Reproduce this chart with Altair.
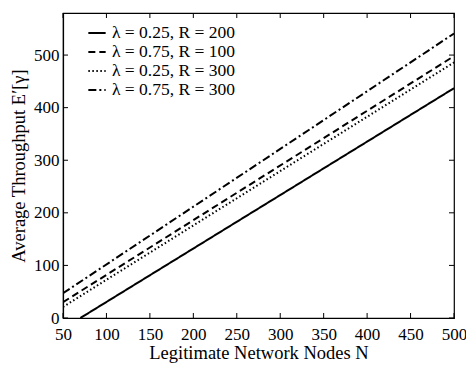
import altair as alt
import pandas as pd

series = ["λ = 0.25,  R = 200", "λ = 0.75,  R = 100", "λ = 0.25,  R = 300", "λ = 0.75,  R = 300"]
x_start = [70, 50, 50, 50]
y_start = [0, 30, 21, 47]
x_end = [500, 500, 500, 500]
y_end = [437, 498, 486, 541]
dashes = [[1, 0], [7, 4], [1.5, 2.5], [8, 3, 2, 3]]

x_ticks = [50, 100, 150, 200, 250, 300, 350, 400, 450, 500]
y_ticks = [0, 100, 200, 300, 400, 500]

rows = []
for s, xs, ys, xe, ye in zip(series, x_start, y_start, x_end, y_end):
    rows.append({"N": xs, "E": ys, "s": s})
    rows.append({"N": xe, "E": ye, "s": s})
df = pd.DataFrame(rows)

W, H = 391, 305
FONT = "Liberation Serif"
xs_scale = alt.Scale(domain=[50, 500], nice=False, zero=False)
ys_scale = alt.Scale(domain=[0, 580], nice=False)

lines = alt.Chart(df).mark_line(strokeWidth=2, color="black", clip=True).encode(
    x=alt.X("N:Q", scale=xs_scale,
            axis=alt.Axis(values=x_ticks, title="Legitimate Network Nodes N", tickSize=0,
                          labelPadding=8, titlePadding=1, grid=False, format="d",
                          labelFlush=False, labelOverlap=False)),
    y=alt.Y("E:Q", scale=ys_scale,
            axis=alt.Axis(values=y_ticks, title="Average Throughput E′[γ]", tickSize=0,
                          labelPadding=4, titlePadding=5, grid=False, format="d",
                          labelFlush=False, labelOverlap=False)),
    strokeDash=alt.StrokeDash("s:N", scale=alt.Scale(domain=series, range=dashes),
                              sort=series,
                              legend=alt.Legend(title=None, orient="none", legendX=24, legendY=10,
                                                symbolType="stroke", symbolSize=300,
                                                symbolStrokeWidth=2, symbolStrokeColor="black",
                                                labelFontSize=17.5, labelFont=FONT, rowPadding=-2,
                                                labelColor="black", labelOffset=5)),
)

xt = pd.DataFrame({"t": x_ticks})
yt = pd.DataFrame({"t": y_ticks})
tick_style = dict(color="black", strokeWidth=1)
xb = alt.Chart(xt).mark_rule(**tick_style).encode(x=alt.X("t:Q", scale=xs_scale), y=alt.value(H - 5), y2=alt.value(H))
xtp = alt.Chart(xt).mark_rule(**tick_style).encode(x=alt.X("t:Q", scale=xs_scale), y=alt.value(0), y2=alt.value(5))
yl = alt.Chart(yt).mark_rule(**tick_style).encode(y=alt.Y("t:Q", scale=ys_scale), x=alt.value(0), x2=alt.value(5))
yr = alt.Chart(yt).mark_rule(**tick_style).encode(y=alt.Y("t:Q", scale=ys_scale), x=alt.value(W - 5), x2=alt.value(W))

chart = alt.layer(lines, xb, xtp, yl, yr).properties(
    width=W, height=H, autosize=alt.AutoSizeParams(type="none"),
    padding={"left": 55, "top": 5, "right": 12, "bottom": 48}
).configure_view(stroke="black", strokeWidth=1.2).configure_axis(
    labelFont=FONT, titleFont=FONT, labelFontSize=17, titleFontSize=18.5,
    labelColor="black", titleColor="black", titleFontWeight="normal",
    domainColor="black", domainWidth=1.2
)

chart.save("out.html", embed_options={"renderer": "svg", "actions": False})
